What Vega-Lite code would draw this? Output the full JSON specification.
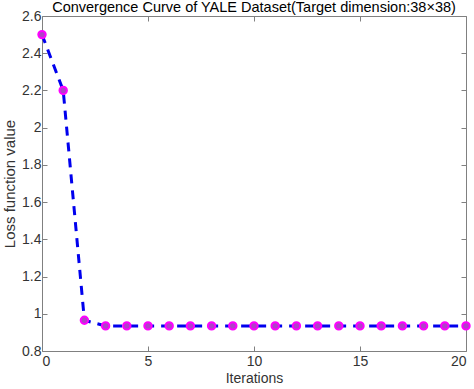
{
  "$schema": "https://vega.github.io/schema/vega-lite/v6.json",
  "width": 424,
  "height": 335,
  "autosize": {"type": "none"},
  "padding": {"left": 42, "top": 16, "right": 8, "bottom": 38},
  "background": "white",
  "config": {
    "font": "Liberation Sans",
    "view": {"stroke": "#808080", "strokeWidth": 1},
    "axis": {"grid": false, "domain": false, "tickColor": "#808080", "labelColor": "#333333", "labelFontSize": 14, "titleFontSize": 14, "titleFontWeight": "normal", "titleColor": "#333333", "tickSize": -5}
  },
  "title": {"text": "Convergence Curve of YALE Dataset(Target dimension:38×38)", "fontSize": 14.5, "fontWeight": "normal", "color": "#000000", "offset": 3, "anchor": "middle", "dy": 9},
  "data": {"values": [
    {"iter": 0, "loss": 2.5},
    {"iter": 1, "loss": 2.2},
    {"iter": 2, "loss": 0.965},
    {"iter": 3, "loss": 0.935},
    {"iter": 4, "loss": 0.935},
    {"iter": 5, "loss": 0.935},
    {"iter": 6, "loss": 0.935},
    {"iter": 7, "loss": 0.935},
    {"iter": 8, "loss": 0.935},
    {"iter": 9, "loss": 0.935},
    {"iter": 10, "loss": 0.935},
    {"iter": 11, "loss": 0.935},
    {"iter": 12, "loss": 0.935},
    {"iter": 13, "loss": 0.935},
    {"iter": 14, "loss": 0.935},
    {"iter": 15, "loss": 0.935},
    {"iter": 16, "loss": 0.935},
    {"iter": 17, "loss": 0.935},
    {"iter": 18, "loss": 0.935},
    {"iter": 19, "loss": 0.935},
    {"iter": 20, "loss": 0.935}
  ]},
  "encoding": {
    "x": {"field": "iter", "type": "quantitative", "scale": {"domain": [0, 20], "nice": false, "zero": false}},
    "y": {"field": "loss", "type": "quantitative", "scale": {"domain": [0.8, 2.6], "nice": false, "zero": false}}
  },
  "layer": [
    {
      "mark": {"type": "line", "color": "#0000ee", "strokeWidth": 3, "strokeDash": [9, 7]},
      "encoding": {
        "x": {"field": "iter", "type": "quantitative", "axis": {"orient": "bottom", "values": [0, 5, 10, 15, 20], "title": "Iterations", "titlePadding": 3, "labelPadding": 8}},
        "y": {"field": "loss", "type": "quantitative", "axis": {"orient": "left", "values": [0.8, 1, 1.2, 1.4, 1.6, 1.8, 2, 2.2, 2.4, 2.6], "format": "~g", "title": "Loss function value", "titleFontSize": 15, "titlePadding": 4, "labelPadding": 6}}
      }
    },
    {
      "mark": {"type": "point", "shape": "circle", "filled": false, "size": 55, "stroke": "#ff00ff", "strokeWidth": 2, "fill": "#b040c8", "fillOpacity": 1},
      "encoding": {
        "x": {"field": "iter", "type": "quantitative", "axis": {"orient": "top", "values": [0, 5, 10, 15, 20], "labels": false, "title": null}},
        "y": {"field": "loss", "type": "quantitative", "axis": {"orient": "right", "values": [0.8, 1, 1.2, 1.4, 1.6, 1.8, 2, 2.2, 2.4, 2.6], "labels": false, "title": null}}
      }
    }
  ],
  "resolve": {"axis": {"x": "independent", "y": "independent"}}
}
